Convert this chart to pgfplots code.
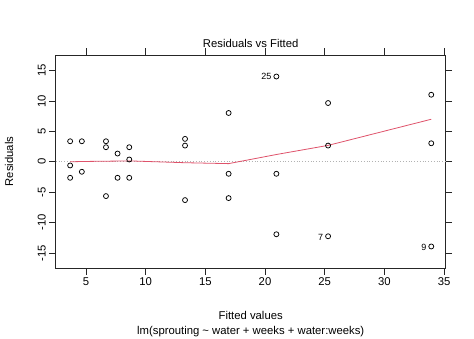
\documentclass[border=0pt]{standalone}
\usepackage{fontspec}
\setmainfont{Liberation Sans}
\usepackage{pgfplots}
\pgfplotsset{compat=1.18}
\definecolor{rred}{HTML}{DF536B}
\begin{document}
\begin{tikzpicture}
\useasboundingbox (0,0) rectangle (474pt,338pt);
\begin{axis}[
  at={(55.7pt,70pt)}, anchor=south west,
  scale only axis, width=390pt, height=213pt,
  xmin=2.47, xmax=35.13, ymin=-17.47, ymax=17.57,
  xtick={5,10,15,20,25,30,35},
  ytick={-15,-10,-5,0,5,10,15},
  tick align=outside, major tick length=6.5pt,
  axis line style={black!85, line width=0.8pt},
  every tick/.style={black!85, line width=0.8pt},
  /pgf/number format/assume math mode=true,
  tick label style={font=\fontsize{11.3}{13}\selectfont},
  yticklabel style={rotate=90, anchor=south},
  title={Residuals vs Fitted},
  title style={font=\fontsize{11.3}{13}\selectfont, at={(axis description cs:0.5,1)}, anchor=center, yshift=6pt},
  xlabel={Fitted values\\lm(sprouting \textasciitilde{} water + weeks + water:weeks)},
  xlabel style={font=\fontsize{11.3}{15}\selectfont, align=center, at={(axis description cs:0.5,0)}, anchor=center, yshift=-56pt},
  ylabel={Residuals},
  ylabel style={font=\fontsize{11.3}{13}\selectfont, at={(axis description cs:0,0.5)}, anchor=center, yshift=46.7pt},
  clip=false,
]
\addplot[gray!60, dotted, line width=0.8pt, forget plot] coordinates {(2.47,0) (35.13,0)};
\addplot[rred, line width=0.8pt] coordinates {
(3.68,0.0) (4.66,0.05) (6.68,0.1) (7.65,0.12) (8.63,0.15) (13.3,-0.15) (16.95,-0.3) (20.95,1.2) (25.28,2.7) (33.92,7.0)};
\addplot[only marks, mark=o, mark size=2.5pt, mark options={line width=0.75pt, black}] coordinates {
(3.68,3.38) (3.68,-0.6) (3.68,-2.63)
(4.66,3.38) (4.66,-1.64)
(6.68,3.38) (6.68,2.4) (6.68,-5.64)
(7.65,1.36) (7.65,-2.63)
(8.63,2.4) (8.63,0.38) (8.63,-2.63)
(13.3,3.77) (13.3,2.67) (13.3,-6.3)
(16.95,8.03) (16.95,-1.97) (16.95,-5.97)
(20.95,14.03) (20.95,-1.97) (20.95,-11.92)
(25.28,9.67) (25.28,2.67) (25.28,-12.25)
(33.92,11.03) (33.92,3.05) (33.92,-13.93)
};
\node[anchor=east, inner sep=0.5pt, font=\fontsize{9}{10}\selectfont] at (axis cs:20.6,14.03) {25};
\node[anchor=east, inner sep=0.5pt, font=\fontsize{9}{10}\selectfont, yshift=-1pt] at (axis cs:24.93,-12.25) {7};
\node[anchor=east, inner sep=0.5pt, font=\fontsize{9}{10}\selectfont, yshift=-1pt] at (axis cs:33.57,-13.93) {9};
\end{axis}
\end{tikzpicture}
\end{document}
